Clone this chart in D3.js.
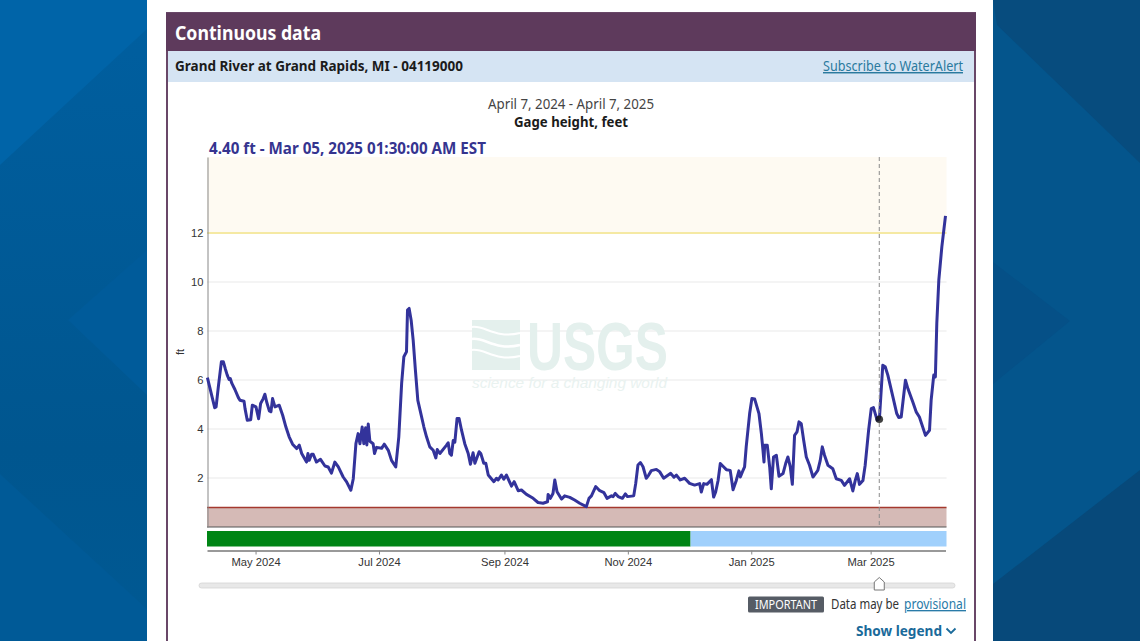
<!DOCTYPE html>
<html>
<head>
<meta charset="utf-8">
<title>Grand River at Grand Rapids, MI - 04119000</title>
<script src="https://cdn.jsdelivr.net/npm/d3@7"></script>
<style>
  html, body { margin: 0; padding: 0; background: #fff; overflow: hidden; }
  svg { display: block; }
  .axis-text { font-family: "Liberation Sans", sans-serif; font-size: 11.2px; fill: #333; }
</style>
</head>
<body>
<svg id="chart" width="1140" height="641"></svg>
<script>
// days since the start of the record
const gageDays = [
  0.2, 1.1, 2.5, 3.8, 4.5, 5.6, 7.1, 8.1, 9.0, 10.0, 10.9, 11.5, 12.3, 13.8, 15.5, 16.3, 18.3, 18.8, 19.9, 21.6,
  22.4, 24.2, 25.5, 26.5, 27.8, 28.6, 29.5, 30.8, 31.6, 32.4, 33.6, 35.7, 37.4, 39.0, 40.6, 42.3, 44.3, 45.6, 46.8, 49.2,
  49.9, 50.5, 51.7, 52.5, 54.1, 56.1, 58.3, 59.9, 61.5, 63.2, 64.9, 67.3, 69.0, 71.1, 72.3, 73.6, 74.7, 75.6, 76.7, 77.5,
  78.4, 79.0, 79.7, 80.5, 82.1, 82.8, 83.8, 86.3, 87.6, 89.6, 91.2, 93.3, 94.8, 96.2, 97.3, 98.6, 99.1, 99.9, 100.9, 101.9,
  103.0, 104.2, 105.5, 107.2, 108.5, 110.1, 111.8, 113.1, 113.8, 115.1, 118.4, 119.2, 120.0, 120.8, 121.7, 122.5, 123.6, 124.6, 125.8, 127.4,
  129.1, 130.2, 131.5, 132.4, 134.5, 135.3, 136.8, 137.8, 139.0, 141.8, 143.1, 143.9, 145.5, 146.7, 148.0, 150.5, 151.8, 153.8, 155.4, 157.9,
  161.2, 163.6, 166.1, 168.3, 168.6, 169.7, 171.0, 171.9, 173.0, 175.2, 176.8, 179.3, 181.7, 184.2, 187.5, 188.8, 190.0, 192.1, 194.1, 196.2,
  197.7, 199.9, 200.7, 201.8, 203.2, 205.3, 206.8, 207.8, 210.9, 211.9, 213.0, 214.2, 215.5, 217.1, 218.3, 219.6, 222.1, 223.7, 225.7, 229.2,
  230.8, 232.0, 233.9, 236.1, 238.5, 241.0, 243.5, 244.3, 245.5, 247.1, 249.3, 250.4, 251.4, 252.6, 253.7, 255.4, 256.7, 258.6, 260.0, 261.6,
  262.9, 263.6, 264.6, 265.7, 266.5, 268.2, 269.3, 270.7, 272.8, 274.0, 274.8, 275.3, 275.6, 276.9, 278.1, 278.9, 280.0, 281.4, 282.7, 284.7,
  286.0, 287.1, 288.3, 289.3, 290.4, 291.6, 292.6, 293.7, 294.9, 296.2, 297.8, 299.5, 301.9, 303.1, 304.1, 305.2, 306.9, 309.3, 311.0, 313.5,
  315.1, 317.6, 319.2, 320.4, 321.4, 322.5, 324.2, 325.3, 327.0, 328.3, 329.4, 331.2, 332.1, 332.4, 334.0, 335.2, 336.5, 339.0, 340.9, 341.9,
  343.1, 345.2, 346.4, 348.8, 350.5, 352.1, 355.1, 357.1, 357.9, 359.2, 360.0, 360.7, 361.7, 363.2, 365.0
];
const gageFeet = [
  6.10, 5.79, 5.31, 4.87, 4.90, 5.72, 6.74, 6.74, 6.47, 6.20, 6.02, 6.06, 5.86, 5.61, 5.28, 5.17, 5.13, 4.83, 4.36, 4.38,
  4.97, 4.90, 4.42, 5.04, 5.24, 5.42, 5.10, 4.74, 4.70, 5.24, 4.90, 4.97, 4.56, 4.08, 3.68, 3.38, 3.20, 3.34, 3.00, 2.65,
  3.00, 2.72, 2.97, 2.97, 2.65, 2.76, 2.49, 2.45, 2.20, 2.65, 2.45, 2.04, 1.84, 1.50, 1.97, 3.40, 3.81, 3.40, 4.08, 3.40,
  4.05, 3.35, 4.20, 3.50, 3.40, 3.00, 3.25, 3.21, 3.38, 3.13, 2.72, 2.45, 3.68, 5.86, 6.95, 7.15, 8.85, 8.92, 8.44, 7.63,
  6.40, 5.17, 4.70, 4.08, 3.68, 3.27, 3.13, 2.82, 3.16, 3.00, 3.34, 3.44, 3.00, 2.93, 3.53, 3.46, 4.43, 4.43, 3.95, 3.40,
  3.00, 2.56, 3.03, 2.60, 3.07, 3.00, 2.60, 2.60, 2.12, 1.85, 1.99, 1.92, 2.12, 1.95, 2.12, 1.67, 1.85, 1.48, 1.51, 1.33,
  1.17, 1.00, 0.97, 1.03, 1.33, 1.17, 1.37, 1.92, 1.44, 1.14, 1.27, 1.21, 1.10, 0.97, 0.83, 1.17, 1.27, 1.65, 1.48, 1.40,
  1.17, 1.27, 1.24, 1.37, 1.24, 1.17, 1.35, 1.24, 1.27, 1.78, 2.53, 2.63, 2.46, 1.99, 2.12, 2.30, 2.35, 2.26, 1.99, 2.19,
  2.03, 2.12, 1.92, 1.99, 1.78, 1.71, 1.77, 1.43, 1.77, 1.74, 1.93, 1.22, 1.43, 1.90, 2.59, 2.45, 2.34, 2.31, 1.52, 1.90,
  2.29, 2.04, 2.25, 2.45, 3.27, 4.63, 5.24, 5.22, 4.63, 3.81, 3.13, 2.65, 3.34, 3.34, 2.45, 1.56, 2.86, 2.93, 2.07, 2.18,
  2.59, 2.86, 2.45, 1.74, 3.74, 3.88, 4.29, 4.22, 3.54, 2.86, 2.52, 2.04, 2.31, 2.72, 3.27, 2.93, 2.52, 2.38, 1.97, 1.90,
  1.70, 1.97, 1.47, 1.90, 2.18, 1.74, 1.90, 2.52, 3.95, 4.83, 4.87, 4.36, 4.40, 4.49, 6.60, 6.54, 6.20, 5.31, 4.63, 4.47,
  4.49, 5.99, 5.65, 5.11, 4.70, 4.49, 3.74, 3.95, 5.17, 6.20, 6.13, 8.31, 10.08, 11.44, 12.70
];
const yTicks = [2, 4, 6, 8, 10, 12];
const monthTicks = ['2024-05-01', '2024-07-01', '2024-09-01', '2024-11-01', '2025-01-01', '2025-03-01'];
const recordStart = '2024-04-07';
const recordEnd = '2025-04-07';
const approvedEnd = '2024-12-02';
const cursorTime = '2025-03-05T06:30:00Z';
const cursorFeet = 4.40;
const lowStage = 0.8;
const floodStage = 12;
const yMax = 15.1;

const svg = d3.select('#chart');
const defs = svg.append('defs');

const leftGrad = defs.append('linearGradient').attr('id', 'leftBg')
  .attr('x1', 0).attr('y1', 0).attr('x2', 0).attr('y2', 1);
leftGrad.append('stop').attr('offset', '0%').attr('stop-color', '#005fa0');
leftGrad.append('stop').attr('offset', '70%').attr('stop-color', '#00568f');
leftGrad.append('stop').attr('offset', '100%').attr('stop-color', '#005993');

// page background
function poly(points, fill) {
  svg.append('polygon').attr('points', points).attr('fill', fill);
}
svg.append('rect').attr('width', 147).attr('height', 641).attr('fill', 'url(#leftBg)');
poly('0,0 147,0 147,29 0,165', '#0064a8');
poly('147,250 68,320 147,395', '#005b9a');
poly('0,474 147,609 147,641 0,641', '#005a97');
svg.append('rect').attr('x', 993).attr('width', 147).attr('height', 641).attr('fill', '#04558c');
poly('993,0 1140,0 1140,163 997,25', '#074c7e');
poly('993,262 1070,321 993,384', '#055087');
poly('993,641 1140,641 1140,470 993,584', '#07497a');

// card and panel
svg.append('rect').attr('x', 147).attr('width', 846).attr('height', 641).attr('fill', '#fff');
svg.append('rect').attr('x', 167).attr('y', 13).attr('width', 808).attr('height', 640)
  .attr('fill', '#fff').attr('stroke', '#694768').attr('stroke-width', 2);
svg.append('rect').attr('x', 166).attr('y', 13).attr('width', 810).attr('height', 38).attr('fill', '#5e3a5c');
svg.append('rect').attr('x', 168).attr('y', 51).attr('width', 806).attr('height', 31).attr('fill', '#d5e4f3');

function label(text, x, y, size, weight, color, length, anchor) {
  const t = svg.append('text')
    .attr('x', x).attr('y', y)
    .attr('font-family', '"Noto Sans", sans-serif')
    .attr('font-size', size).attr('font-weight', weight)
    .attr('fill', color)
    .attr('text-anchor', anchor || 'start')
    .text(text);
  if (length) t.attr('textLength', length).attr('lengthAdjust', 'spacingAndGlyphs');
  return t;
}

label('Continuous data', 175, 40, 20, 700, '#fff', 146);
label('Grand River at Grand Rapids, MI - 04119000', 175, 71, 15, 700, '#1b1b1b', 288);
label('Subscribe to WaterAlert', 823, 71, 14.5, 400, '#2a7a9e', 140).attr('text-decoration', 'underline');
label('April 7, 2024 - April 7, 2025', 488, 109, 14.5, 400, '#444', 166);
label('Gage height, feet', 514, 127, 14.5, 700, '#1b1b1b', 114);
label('4.40 ft - Mar 05, 2025 01:30:00 AM EST', 209, 154, 16.5, 700, '#35348f', 277);

// scales
const parseDay = d3.utcParse('%Y-%m-%d');
const startDate = parseDay(recordStart);
const x = d3.scaleUtc().domain([startDate, parseDay(recordEnd)]).range([207, 945.5]);
const y = d3.scaleLinear().domain([0, yMax]).range([527, 157]);
const series = gageDays.map((d, i) => ({
  date: new Date(startDate.getTime() + d * 864e5),
  feet: gageFeet[i]
}));

// flood and low stage bands
const plotLeft = x.range()[0], plotRight = x.range()[1] + 1;
svg.append('rect').attr('x', plotLeft).attr('y', y(yMax))
  .attr('width', plotRight - plotLeft).attr('height', y(floodStage) - y(yMax)).attr('fill', '#fefaf2');
svg.append('rect').attr('x', plotLeft).attr('y', y(lowStage))
  .attr('width', plotRight - plotLeft).attr('height', y(0) - y(lowStage)).attr('fill', '#d5bab6');

// grid
svg.append('g').selectAll('line').data(yTicks.filter(d => d !== floodStage)).join('line')
  .attr('x1', plotLeft).attr('x2', plotRight)
  .attr('y1', d => y(d)).attr('y2', d => y(d))
  .attr('stroke', '#f0f0f0').attr('stroke-width', 1.5);

// watermark
const mark = svg.append('g');
mark.append('rect').attr('x', 472).attr('y', 320).attr('width', 48).attr('height', 50).attr('fill', '#e4f0ed');
[[333, 2], [345, 2.5], [356, 2]].forEach(([wy, w]) => {
  mark.append('path')
    .attr('d', `M472,${wy - 6} C485,${wy - 8} 495,${wy + 6} 520,${wy}`)
    .attr('fill', 'none').attr('stroke', '#fff').attr('stroke-width', w);
});
mark.append('text').attr('x', 527).attr('y', 370)
  .attr('font-family', '"Liberation Sans", sans-serif').attr('font-weight', 700).attr('font-size', 68)
  .attr('fill', '#e4f0ed').attr('textLength', 141).attr('lengthAdjust', 'spacingAndGlyphs').text('USGS');
mark.append('text').attr('x', 472).attr('y', 388)
  .attr('font-family', '"Liberation Sans", sans-serif').attr('font-style', 'italic').attr('font-size', 15)
  .attr('fill', '#e9f2f0').attr('textLength', 195).attr('lengthAdjust', 'spacingAndGlyphs')
  .text('science for a changing world');

// stage lines
svg.append('line').attr('x1', plotLeft).attr('x2', plotRight).attr('y1', y(floodStage)).attr('y2', y(floodStage))
  .attr('stroke', '#f5e9a3').attr('stroke-width', 2);
svg.append('line').attr('x1', plotLeft).attr('x2', plotRight).attr('y1', y(lowStage)).attr('y2', y(lowStage))
  .attr('stroke', '#a5392e').attr('stroke-width', 1.5);
svg.append('line').attr('x1', plotLeft).attr('x2', plotRight).attr('y1', y(0)).attr('y2', y(0))
  .attr('stroke', '#555').attr('stroke-width', 1.2);

// y axis
const yAxis = svg.append('g').attr('transform', `translate(${plotLeft + 0.5},0)`)
  .call(d3.axisLeft(y).tickValues(yTicks).tickSize(0).tickPadding(4));
yAxis.select('.domain').attr('stroke', '#888');
yAxis.selectAll('text').attr('class', 'axis-text');
yAxis.attr('font-family', null).attr('font-size', null);
svg.append('text').attr('class', 'axis-text')
  .attr('transform', 'translate(184,352) rotate(-90)').attr('text-anchor', 'middle').text('ft');

// data line
const line = d3.line().x(d => x(d.date)).y(d => y(d.feet));
svg.append('path').datum(series).attr('d', line)
  .attr('fill', 'none').attr('stroke', '#33339b').attr('stroke-width', 3).attr('stroke-linejoin', 'round');

// cursor
const cursorDate = new Date(cursorTime);
svg.append('line').attr('x1', x(cursorDate)).attr('x2', x(cursorDate)).attr('y1', y(yMax)).attr('y2', y(0))
  .attr('stroke', '#8a8a8a').attr('stroke-width', 1).attr('stroke-dasharray', '4,3');
svg.append('circle').attr('cx', x(cursorDate)).attr('cy', y(cursorFeet)).attr('r', 3.8)
  .attr('fill', '#111').attr('fill-opacity', 0.8);

// approval status bar
const bar = [
  { from: startDate, to: parseDay(approvedEnd), fill: '#008515' },
  { from: parseDay(approvedEnd), to: parseDay(recordEnd), fill: '#a0d0fc' }
];
svg.append('g').selectAll('rect').data(bar).join('rect')
  .attr('x', d => x(d.from)).attr('y', 531)
  .attr('width', d => x(d.to) - x(d.from) + (d.from > startDate ? 1 : 0)).attr('height', 15.5)
  .attr('fill', d => d.fill);

// x axis
const xAxis = svg.append('g').attr('transform', 'translate(0,550.5)')
  .call(d3.axisBottom(x).tickValues(monthTicks.map(parseDay)).tickFormat(d3.utcFormat('%b %Y')).tickSize(4).tickSizeOuter(0).tickPadding(4));
xAxis.select('.domain').attr('stroke', '#777').attr('stroke-width', 1.5);
xAxis.selectAll('.tick line').attr('stroke', '#888');
xAxis.selectAll('text').attr('class', 'axis-text');
xAxis.attr('font-family', null).attr('font-size', null);

// brush slider
svg.append('rect').attr('x', 199).attr('y', 583).attr('width', 756).attr('height', 5).attr('rx', 2.5)
  .attr('fill', '#e8e8e8').attr('stroke', '#d4d4d4').attr('stroke-width', 0.8);
const hx = x(cursorDate);
svg.append('path').attr('d', `M${hx - 5},590 V582 L${hx},577.5 L${hx + 5},582 V590 Z`)
  .attr('fill', '#fff').attr('stroke', '#777').attr('stroke-width', 1);

// footer notes
svg.append('rect').attr('x', 748).attr('y', 596.5).attr('width', 76).attr('height', 16).attr('rx', 1.5).attr('fill', '#565c65');
label('IMPORTANT', 755, 609, 12.5, 400, '#fff', 62);
label('Data may be', 831, 609, 13.5, 400, '#333', 68);
label('provisional', 904, 609, 13.5, 400, '#2a7ba8', 62).attr('text-decoration', 'underline');
label('Show legend', 856, 636, 15, 700, '#1a6a9a', 86);
svg.append('path').attr('d', 'M946.5,628.5 L951,633 L955.5,628.5')
  .attr('fill', 'none').attr('stroke', '#1a6a9a').attr('stroke-width', 1.8);
</script>
</body>
</html>
